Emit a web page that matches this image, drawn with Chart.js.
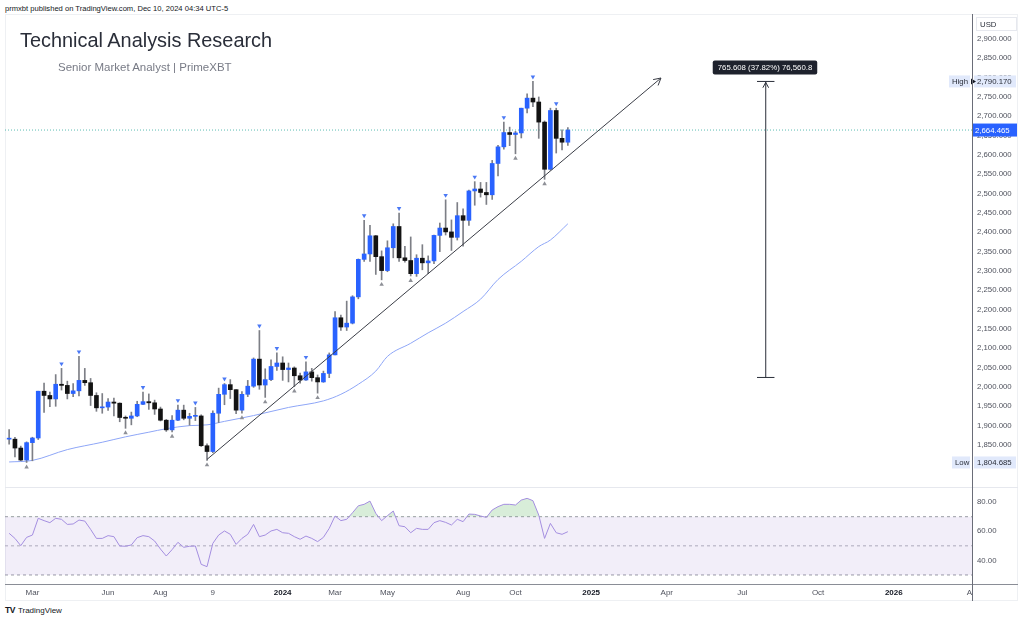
<!DOCTYPE html>
<html>
<head>
<meta charset="utf-8">
<title>XAUUSD weekly - Technical Analysis Research</title>
<script src="https://cdn.jsdelivr.net/npm/chart.js@4.4.1/dist/chart.umd.min.js"></script>
<style>
  html, body { margin: 0; padding: 0; background: #fff; }
  body {
    width: 1024px; height: 621px; position: relative; overflow: hidden;
    font-family: "Liberation Sans", Arial, sans-serif; color: #131722;
  }
  .abs { position: absolute; }
  .published { left: 5px; top: 4px; font-size: 7.6px; color: #131722; white-space: nowrap; }
  .frame { left: 5px; top: 14px; width: 1013px; height: 587px; border: 1px solid #eef0f3; box-sizing: border-box; }
  #priceBox { left: 0; top: 14px; width: 1024px; height: 473px; }
  #rsiBox { left: 0; top: 488px; width: 1024px; height: 112px; }
  .axisLine { left: 972px; top: 14px; width: 1px; height: 587px; background: #6a6d78; }
  .paneSep { left: 5px; top: 487px; width: 1013px; height: 1px; background: #e6e8ee; }
  .timeLine { left: 5px; top: 584px; width: 1013px; height: 1px; background: #8a8d96; }
  .title { left: 20px; top: 30px; font-size: 19.9px; line-height: 20px; color: #2a2e39; white-space: nowrap; z-index: 3; }
  .subtitle { left: 58px; top: 61px; font-size: 11.5px; line-height: 12px; color: #787b86; white-space: nowrap; z-index: 3; }
  .footer { left: 5px; top: 605px; font-size: 8px; color: #131722; white-space: nowrap; }
  .footer b { font-size: 8.5px; letter-spacing: -0.5px; margin-right: 3px; }
</style>
</head>
<body>
<div class="abs published">prmxbt published on TradingView.com, Dec 10, 2024 04:34 UTC-5</div>
<div class="abs frame"></div>
<div class="abs" id="priceBox"><canvas id="priceChart"></canvas></div>
<div class="abs" id="rsiBox"><canvas id="rsiChart"></canvas></div>
<div class="abs paneSep"></div>
<div class="abs timeLine"></div>
<div class="abs axisLine"></div>
<div class="abs title">Technical Analysis Research</div>
<div class="abs subtitle">Senior Market Analyst | PrimeXBT</div>
<div class="abs footer"><b>TV</b>TradingView</div>

<script>
// weekly candles, week 0 = 2023-10-02 (the low of the range)
const weeks = [
  "2023-02-06","2023-02-13","2023-02-20","2023-02-27","2023-03-06","2023-03-13","2023-03-20","2023-03-27",
  "2023-04-03","2023-04-10","2023-04-17","2023-04-24","2023-05-01","2023-05-08","2023-05-15","2023-05-22",
  "2023-05-29","2023-06-05","2023-06-12","2023-06-19","2023-06-26","2023-07-03","2023-07-10","2023-07-17",
  "2023-07-24","2023-07-31","2023-08-07","2023-08-14","2023-08-21","2023-08-28","2023-09-04","2023-09-11",
  "2023-09-18","2023-09-25","2023-10-02","2023-10-09","2023-10-16","2023-10-23","2023-10-30","2023-11-06",
  "2023-11-13","2023-11-20","2023-11-27","2023-12-04","2023-12-11","2023-12-18","2023-12-25","2024-01-01",
  "2024-01-08","2024-01-15","2024-01-22","2024-01-29","2024-02-05","2024-02-12","2024-02-19","2024-02-26",
  "2024-03-04","2024-03-11","2024-03-18","2024-03-25","2024-04-01","2024-04-08","2024-04-15","2024-04-22",
  "2024-04-29","2024-05-06","2024-05-13","2024-05-20","2024-05-27","2024-06-03","2024-06-10","2024-06-17",
  "2024-06-24","2024-07-01","2024-07-08","2024-07-15","2024-07-22","2024-07-29","2024-08-05","2024-08-12",
  "2024-08-19","2024-08-26","2024-09-02","2024-09-09","2024-09-16","2024-09-23","2024-09-30","2024-10-07",
  "2024-10-14","2024-10-21","2024-10-28","2024-11-04","2024-11-11","2024-11-18","2024-11-25","2024-12-02",
  "2024-12-09"
];
const FIRST_WEEK = -34;

const opens = [
  1865,1865,1842,1811,1856,1868,1989,1978,1969,2007,2004,1983,1990,2017,2011,1978,1946,1948,1961,1958,
  1921,1919,1925,1955,1962,1959,1943,1914,1889,1914,1940,1919,1924,1925,
  1848,1833,1932,1981,2006,1993,1940,1981,2002,2072,2005,2019,2053,
  2062,2045,2049,2029,2018,2039,2024,2013,2035,2083,2179,2155,2165,2233,2330,2344,2391,2337,2301,2360,
  2415,2334,2327,2293,2333,2321,2326,2392,2411,2401,2387,2443,2431,2507,2512,2503,2497,2578,2621,2658,
  2653,2657,2721,2747,2737,2685,2563,2715,2643,2633
];
const highs = [
  1890,1870,1847,1858,1870,1989,2010,1987,2032,2048,2015,2009,2079,2048,2022,1985,1983,1970,1971,1959,
  1925,1935,1963,1987,1982,1966,1948,1916,1926,1953,1953,1932,1947,1928,
  1853,1938,1997,2009,2019,1993,1988,2017,2075,2146,2047,2070,2088,
  2078,2062,2052,2036,2065,2048,2031,2041,2088,2195,2186,2222,2236,2331,2431,2418,2392,2352,2378,2422,
  2450,2364,2388,2342,2368,2339,2393,2424,2484,2432,2477,2461,2509,2531,2529,2529,2586,2625,2685,2672,
  2661,2721,2758,2790.17,2750,2688,2721,2721,2665,2671
];
const lows = [
  1852,1819,1809,1804.685,1809,1864,1934,1949,1950,1992,1969,1975,1977,2004,1952,1937,1932,1939,1925,1910,
  1893,1902,1923,1954,1942,1929,1912,1885,1884,1913,1915,1901,1913,1846,
  1810,1830,1908,1954,1970,1931,1932,1975,1999,1994,1973,2016,2043,
  2017,2013,2001,2010,2017,2015,1984,2012,2024,2083,2146,2146,2163,2228,2325,2325,2291,2277,2298,2334,
  2325,2323,2287,2286,2303,2293,2319,2350,2393,2353,2380,2364,2418,2470,2491,2472,2485,2546,2615,2624,
  2603,2644,2709,2725,2643,2537,2561,2605,2613,2625
];
const closes = [
  1865,1842,1811,1856,1868,1989,1978,1969,2007,2004,1983,1990,2017,2011,1978,1946,1948,1961,1958,1921,
  1919,1925,1955,1962,1959,1943,1914,1889,1914,1940,1919,1924,1925,1848,
  1833,1932,1981,2006,1993,1940,1981,2002,2072,2005,2019,2053,2062,
  2045,2049,2029,2018,2039,2024,2013,2035,2083,2179,2155,2165,2233,2330,2344,2391,2337,2301,2360,2415,
  2334,2327,2293,2333,2321,2326,2392,2411,2401,2387,2443,2431,2507,2512,2503,2497,2578,2621,2658,2653,
  2657,2721,2747,2737,2685,2563,2715,2643,2633,2664.465
];

// moving average (week, value)
const maWeeks = [-34,-30,-24,-18,-14,-10,-7,-3,0,3,8,14,20,23,26,29,31,35,38,41,44,47,50,54,57,59,62];
const maValues = [1806,1810,1838,1857,1871,1883,1892,1900,1902,1911,1926,1947,1964,1981,2007,2041,2079,2113,2140,2165,2195,2227,2278,2325,2363,2380,2422];

// pivot markers
const pivotHighWeeks = [-25,-22,-11,-5,-2,3,9,12,17,27,33,41,46,51,56,60];
const pivotLowWeeks = [-31,-14,-6,0,6,10,15,19,30,35,53,58];

// drawings
const trendWeeks = [0, 78];
const trendPrices = [1812.6, 2799];
const measureWeek = 96;
const measureFrom = 2024.562;
const measureTo = 2790.17;

// RSI(14), one value per week
const rsiValues = [
  58.6,55.1,50.1,55.8,57.4,68.9,67.3,65.9,68.9,68.2,64.7,65.0,67.7,67.0,61.3,55.1,55.1,57.0,56.3,49.9,
  49.7,50.6,55.6,57.0,56.3,53.3,47.8,43.0,47.4,52.4,49.0,49.7,49.9,37.3,35.7,51.7,57.4,60.2,57.9,51.0,
  55.1,57.9,64.7,56.3,57.4,60.2,61.3,59.0,58.6,56.3,54.5,56.7,55.1,52.9,55.8,62.0,70.5,67.3,68.2,72.7,
  77.5,78.5,80.7,72.3,67.3,70.7,73.9,63.8,63.1,59.0,62.0,61.3,61.3,65.9,67.3,66.1,64.3,68.2,66.6,71.8,
  71.6,70.5,69.5,74.6,76.9,78.5,78.5,78.0,81.4,82.6,81.0,71.1,55.1,65.4,59.0,57.9,59.7
];

const priceTicks = [1800,1850,1900,1950,2000,2050,2100,2150,2200,2250,2300,2350,2400,2450,2500,2550,2600,2650,2700,2750,2800,2850,2900];
const rsiTicks = [40, 60, 80];
const timeTickWeeks = [-30,-17,-8,1,13,22,31,44,53,66,79,92,105,118,131];
const timeTickLabels = ["Mar","Jun","Aug","9","2024","Mar","May","Aug","Oct","2025","Apr","Jul","Oct","2026","A"];

// visible range of the panes
const X_MIN = -34.71, X_MAX = 131.44;
const PRICE_MIN = 1751.6, PRICE_MAX = 2954.25;
const RSI_MIN = 23.8, RSI_MAX = 89.7;

const UP = "#2962ff";
const DOWN = "#131313";
const WICK = "#7d7f86";
const AXIS_FONT = { family: '"Liberation Sans", Arial, sans-serif', size: 7.8 };

function fmtPrice(v) {
  return v.toLocaleString("en-US", { minimumFractionDigits: 3, maximumFractionDigits: 3 });
}

function weekX(i) {
  return i + FIRST_WEEK;
}

function fixAxisWidth(scale) {
  scale.width = 52;
  scale.paddingTop = 0;
  scale.paddingBottom = 0;
}

function drawArrowHead(ctx, x0, y0, x1, y1, size) {
  const a = Math.atan2(y1 - y0, x1 - x0);
  ctx.beginPath();
  ctx.moveTo(x1 - size * Math.cos(a - 0.5), y1 - size * Math.sin(a - 0.5));
  ctx.lineTo(x1, y1);
  ctx.lineTo(x1 - size * Math.cos(a + 0.5), y1 - size * Math.sin(a + 0.5));
  ctx.stroke();
}

function axisTag(ctx, x, y, w, h, bg, fg, text) {
  ctx.fillStyle = bg;
  ctx.fillRect(x, y - h / 2, w, h);
  ctx.fillStyle = fg;
  ctx.textBaseline = "middle";
  ctx.textAlign = "left";
  ctx.fillText(text, x + 3, y + 0.5);
}

const priceOverlay = {
  id: "priceOverlay",
  afterDraw(chart) {
    const ctx = chart.ctx;
    const xs = chart.scales.x;
    const ys = chart.scales.y;
    ctx.save();
    ctx.font = '7.8px "Liberation Sans", Arial, sans-serif';

    // trend line arrow
    ctx.strokeStyle = "#3a3d46";
    ctx.lineWidth = 1;
    drawArrowHead(ctx,
      xs.getPixelForValue(trendWeeks[0]), ys.getPixelForValue(trendPrices[0]),
      xs.getPixelForValue(trendWeeks[1]), ys.getPixelForValue(trendPrices[1]), 8);

    // price range tool
    const mx = xs.getPixelForValue(measureWeek);
    const mTop = ys.getPixelForValue(measureTo);
    const mBot = ys.getPixelForValue(measureFrom);
    ctx.strokeStyle = "#2a2e39";
    drawArrowHead(ctx, mx, mBot, mx, mTop + 1, 6);
    const diff = measureTo - measureFrom;
    const label = diff.toFixed(3) + " (" + (diff / measureFrom * 100).toFixed(2) + "%) " +
      (diff * 100).toLocaleString("en-US", { minimumFractionDigits: 1, maximumFractionDigits: 1 });
    const tw = ctx.measureText(label).width + 10;
    ctx.fillStyle = "#1e222d";
    ctx.beginPath();
    ctx.roundRect(mx - 53, mTop - 21, tw, 14, 2);
    ctx.fill();
    ctx.fillStyle = "#ffffff";
    ctx.textAlign = "left";
    ctx.textBaseline = "middle";
    ctx.fillText(label, mx - 48, mTop - 13.5);

    // right axis tags
    const axX = chart.chartArea.right;
    const hi = Math.max(...highs);
    const lo = Math.min(...lows);
    const last = closes[closes.length - 1];
    const hiY = ys.getPixelForValue(hi);
    const loY = ys.getPixelForValue(lo);
    const lastY = ys.getPixelForValue(last);
    axisTag(ctx, axX + 2, hiY, 42, 12, "#e1e9fb", "#2a2e39", fmtPrice(hi));
    axisTag(ctx, axX - 23, hiY, 21, 12, "#e1e9fb", "#2a2e39", "High");
    ctx.fillStyle = "#131722";
    ctx.beginPath();
    ctx.moveTo(axX - 1, hiY - 3);
    ctx.lineTo(axX + 4, hiY);
    ctx.lineTo(axX - 1, hiY + 3);
    ctx.fill();
    axisTag(ctx, axX + 2, loY, 42, 12, "#e1e9fb", "#2a2e39", fmtPrice(lo));
    axisTag(ctx, axX - 20, loY, 18, 12, "#e1e9fb", "#2a2e39", "Low");
    axisTag(ctx, axX, lastY, 45, 13, "#2962ff", "#ffffff", fmtPrice(last));

    // currency box
    ctx.fillStyle = "#ffffff";
    ctx.fillRect(axX + 4, 3, 41, 14);
    ctx.strokeStyle = "#e6e8ee";
    ctx.strokeRect(axX + 4.5, 3.5, 40, 13);
    ctx.fillStyle = "#2a2e39";
    ctx.fillText("USD", axX + 8, 10.5);
    ctx.restore();
  }
};

function renderPriceChart() {
  const wickData = weeks.map((w, i) => ({ x: weekX(i), y: [lows[i], highs[i]] }));
  const bodyData = weeks.map((w, i) => ({ x: weekX(i), y: [opens[i], closes[i]] }));
  const bodyColors = weeks.map((w, i) => (closes[i] >= opens[i] ? UP : DOWN));
  const maData = maWeeks.map((w, i) => ({ x: w, y: maValues[i] }));
  const hiMarks = pivotHighWeeks.map((w) => ({ x: w, y: highs[w - FIRST_WEEK] + 12 }));
  const loMarks = pivotLowWeeks.map((w) => ({ x: w, y: lows[w - FIRST_WEEK] - 12 }));
  const last = closes[closes.length - 1];
  const capHalf = 1.5;

  new Chart(document.getElementById("priceChart"), {
    type: "bar",
    data: {
      datasets: [
        {
          type: "scatter", data: hiMarks, order: 1,
          pointStyle: "triangle", rotation: 180, radius: 2.6,
          backgroundColor: "#4a78f5", borderWidth: 0
        },
        {
          type: "scatter", data: loMarks, order: 1,
          pointStyle: "triangle", radius: 2.6,
          backgroundColor: "#8e9097", borderWidth: 0
        },
        {
          type: "line", order: 2,
          data: trendWeeks.map((w, i) => ({ x: w, y: trendPrices[i] })),
          borderColor: "#3a3d46", borderWidth: 1, pointRadius: 0
        },
        {
          type: "line", order: 2,
          data: [{ x: measureWeek, y: measureFrom }, { x: measureWeek, y: measureTo }],
          borderColor: "#2a2e39", borderWidth: 1, pointRadius: 0
        },
        {
          type: "line", order: 2,
          data: [{ x: measureWeek - capHalf, y: measureTo }, { x: measureWeek + capHalf, y: measureTo }],
          borderColor: "#2a2e39", borderWidth: 1, pointRadius: 0
        },
        {
          type: "line", order: 2,
          data: [{ x: measureWeek - capHalf, y: measureFrom }, { x: measureWeek + capHalf, y: measureFrom }],
          borderColor: "#2a2e39", borderWidth: 1, pointRadius: 0
        },
        {
          data: bodyData, order: 3, grouped: false,
          backgroundColor: bodyColors, barThickness: 4, minBarLength: 1, borderWidth: 0
        },
        {
          data: wickData, order: 4, grouped: false,
          backgroundColor: WICK, barThickness: 1, borderWidth: 0
        },
        {
          type: "line", order: 5, data: maData,
          borderColor: "#8ea6f7", borderWidth: 1, pointRadius: 0,
          cubicInterpolationMode: "monotone"
        },
        {
          type: "line", order: 6,
          data: [{ x: X_MIN, y: last }, { x: X_MAX, y: last }],
          borderColor: "rgba(38,166,154,0.75)", borderWidth: 1, borderDash: [1, 2], pointRadius: 0
        }
      ]
    },
    options: {
      responsive: true,
      maintainAspectRatio: false,
      animation: false,
      events: [],
      layout: { padding: { left: 5, right: 0, top: 0, bottom: 0 } },
      plugins: { legend: { display: false }, tooltip: { enabled: false } },
      scales: {
        x: { type: "linear", min: X_MIN, max: X_MAX, offset: false, display: false },
        y: {
          type: "linear", position: "right", min: PRICE_MIN, max: PRICE_MAX,
          grid: { display: false, drawTicks: false }, border: { display: false },
          afterBuildTicks: (scale) => { scale.ticks = priceTicks.map((v) => ({ value: v })); },
          afterFit: fixAxisWidth,
          ticks: { font: AXIS_FONT, color: "#50535e", padding: 5, callback: (v) => fmtPrice(v) }
        }
      }
    },
    plugins: [priceOverlay]
  });
}

function renderRsiChart() {
  const rsiData = rsiValues.map((v, i) => ({ x: weekX(i), y: v }));
  const level = (v) => [{ x: X_MIN, y: v }, { x: X_MAX, y: v }];

  new Chart(document.getElementById("rsiChart"), {
    type: "line",
    data: {
      datasets: [
        {
          data: rsiData, order: 1,
          borderColor: "#a48ee0", borderWidth: 1, pointRadius: 0,
          fill: { target: { value: 70 }, above: "rgba(76,175,80,0.22)", below: "rgba(0,0,0,0)" }
        },
        {
          data: level(70), order: 2,
          borderColor: "#9a9ca5", borderWidth: 1, borderDash: [3, 3], pointRadius: 0,
          fill: { target: { value: 30 } }, backgroundColor: "rgba(126,87,194,0.1)"
        },
        {
          data: level(50), order: 2,
          borderColor: "#b2b4bb", borderWidth: 1, borderDash: [3, 3], pointRadius: 0
        },
        {
          data: level(30), order: 2,
          borderColor: "#9a9ca5", borderWidth: 1, borderDash: [3, 3], pointRadius: 0
        }
      ]
    },
    options: {
      responsive: true,
      maintainAspectRatio: false,
      animation: false,
      events: [],
      layout: { padding: { left: 5, right: 0, top: 0, bottom: 0 } },
      plugins: { legend: { display: false }, tooltip: { enabled: false } },
      scales: {
        x: {
          type: "linear", min: X_MIN, max: X_MAX, offset: false,
          grid: { display: false, drawTicks: false }, border: { display: false },
          afterBuildTicks: (scale) => { scale.ticks = timeTickWeeks.map((v) => ({ value: v })); },
          afterFit: (scale) => { scale.height = 16; scale.paddingLeft = 0; scale.paddingRight = 0; },
          ticks: {
            autoSkip: false, maxRotation: 0, padding: 4,
            color: (c) => (/^\d{4}$/.test(timeTickLabels[c.index]) ? "#131722" : "#50535e"),
            font: (c) => ({
              family: AXIS_FONT.family, size: 8,
              weight: /^\d{4}$/.test(timeTickLabels[c.index]) ? "bold" : "normal"
            }),
            callback: (v, i) => timeTickLabels[i]
          }
        },
        y: {
          type: "linear", position: "right", min: RSI_MIN, max: RSI_MAX,
          grid: { display: false, drawTicks: false }, border: { display: false },
          afterBuildTicks: (scale) => { scale.ticks = rsiTicks.map((v) => ({ value: v })); },
          afterFit: fixAxisWidth,
          ticks: { font: AXIS_FONT, color: "#50535e", padding: 5, callback: (v) => v.toFixed(2) }
        }
      }
    }
  });
}

renderPriceChart();
renderRsiChart();
</script>
</body>
</html>
